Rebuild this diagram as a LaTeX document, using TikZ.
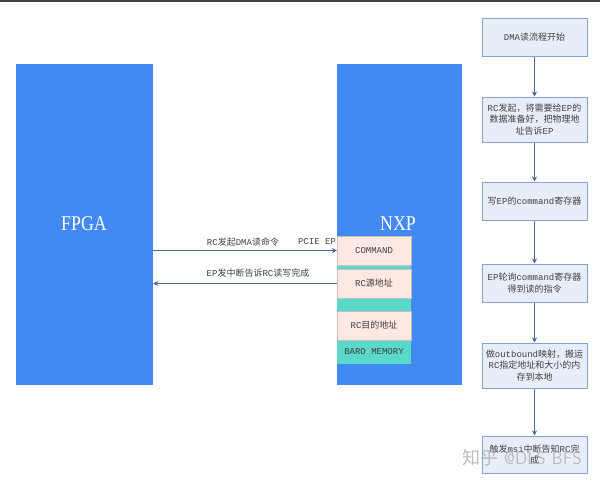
\documentclass[tikz,border=0pt]{standalone}
\usepackage{fontspec}
\setmainfont{Liberation Mono}
\newfontfamily\cjk{Noto Sans CJK SC}
\newfontfamily\chipfont{Liberation Serif}
\usetikzlibrary{positioning, arrows.meta}
\definecolor{chipblue}{HTML}{4389F2}
\definecolor{regpink}{HTML}{FDE8E4}
\definecolor{regteal}{HTML}{5AD8CA}
\definecolor{flowfill}{HTML}{E8EEF9}
\definecolor{flowline}{HTML}{86A3CB}
\definecolor{linkblue}{HTML}{4A6A9C}
\tikzset{
  chip/.style={fill=chipblue, inner sep=0pt},
  chiptag/.style={text=white, inner sep=0pt, font=\chipfont\fontsize{21}{23}\selectfont},
  reg/.style={draw=regpink!60!gray, fill=regpink, minimum width=74pt, inner sep=0pt, text=black!75, font=\fontsize{9}{10}\selectfont},
  flow/.style={draw=flowline, line width=1pt, fill=flowfill, minimum width=105pt, inner sep=1pt, align=center, text=black!75, font=\fontsize{9}{11.5}\selectfont},
  link/.style={draw=linkblue, line width=0.8pt, -{Stealth[length=5pt,width=5pt]}},
  tag/.style={text=black!75, inner sep=0pt, font=\fontsize{9}{10}\selectfont}
}
\newcommand{\zh}[1]{{\cjk #1}}
\begin{document}
\begin{tikzpicture}[x=1pt, y=-1pt]
  \useasboundingbox (0,0) rectangle (600,482);
  \fill[black!75] (0,0) rectangle (600,1.5);

  \node [chip, minimum width=137pt, minimum height=321pt] (fpga) at (84.5,224.5) {};
  \node [chip, minimum width=125pt, minimum height=321pt] (nxp) at (399.5,224.5) {};
  \node [chiptag] (fpgalabel) at (84,224) {\scalebox{0.85}[1]{FPGA}};
  \node [chiptag] (nxplabel) at (398,224) {\scalebox{0.85}[1]{NXP}};

  \node [fill=regteal, minimum width=74pt, minimum height=128pt, inner sep=0pt] (regback) at (374,300) {};
  \node [reg, minimum height=29pt] (command) at (374,250.5) {COMMAND};
  \node [reg, minimum height=29pt] (source) at (374,283.5) {RC\zh{源地址}};
  \node [reg, minimum height=29pt] (dest) at (374,325.5) {RC\zh{目的地址}};
  \node [tag, minimum width=74pt, minimum height=24pt] (baro) at (374,352) {BARO MEMORY};

  \node [tag] (readcmd) at (243,242) {RC\zh{发起}DMA\zh{读命令}};
  \node [tag] (pcieep) at (317,242) {PCIE EP};
  \node [tag] (irqdone) at (258,273) {EP\zh{发中断告诉}RC\zh{读写完成}};

  \draw [link] (fpga.east |- command) -- (command.west);
  \draw [link] (source.west) -- (fpga.east |- source);

  \node [flow, minimum height=38pt] (start) at (534.5,37) {DMA\zh{读流程开始}};
  \node [flow, minimum height=45pt] (prepare) at (534.5,119.5) {RC\zh{发起，将需要给}EP\zh{的}\\\zh{数据准备好，把物理地}\\\zh{址告诉}EP};
  \node [flow, minimum height=38pt] (writecmd) at (534.5,201) {\zh{写}EP\zh{的}command\zh{寄存器}};
  \node [flow, minimum height=38pt] (poll) at (534.5,283) {EP\zh{轮询}command\zh{寄存器}\\\zh{得到读的指令}};
  \node [flow, minimum height=45pt] (outbound) at (534.5,365.5) {\zh{做}outbound\zh{映射，搬运}\\RC\zh{指定地址和大小的内}\\\zh{存到本地}};
  \node [flow, minimum height=37pt] (trigger) at (534.5,454.5) {\zh{触发}msi\zh{中断告知}RC\zh{完}\\\zh{成}};

  \draw [link] (start) -- (prepare);
  \draw [link] (prepare) -- (writecmd);
  \draw [link] (writecmd) -- (poll);
  \draw [link] (poll) -- (outbound);
  \draw [link] (outbound) -- (trigger);

  \node [text=black!30, text opacity=0.85, inner sep=0pt, font=\fontsize{18}{20}\selectfont\sffamily] (mark) at (522,458) {\zh{知乎} @DLS BFS};
\end{tikzpicture}
\end{document}
